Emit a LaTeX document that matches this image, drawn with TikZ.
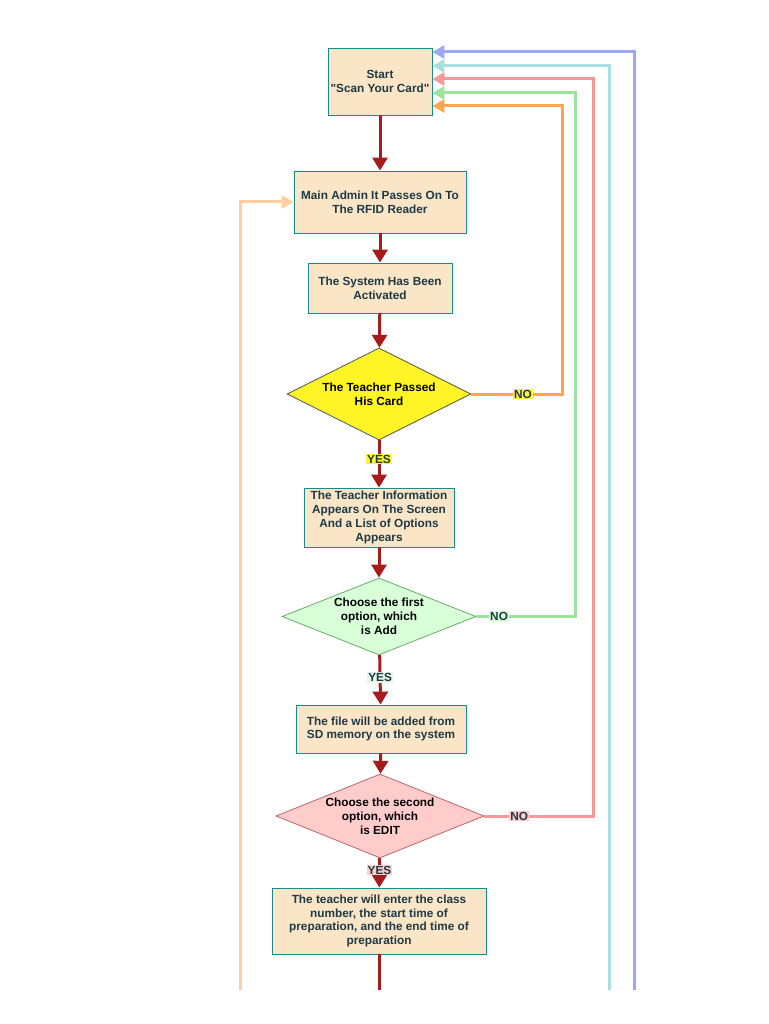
\documentclass[tikz,border=0pt]{standalone}
\usepackage{fontspec}
\setmainfont{Liberation Sans}
\usetikzlibrary{shapes.geometric,arrows.meta}
\definecolor{boxf}{HTML}{FAE5C6}
\definecolor{boxd}{HTML}{168C8C}
\definecolor{txt}{HTML}{1E3A46}
\definecolor{flow}{HTML}{A61C1C}
\definecolor{cor}{HTML}{FFA552}
\definecolor{cgr}{HTML}{9CE39C}
\definecolor{cre}{HTML}{F59A97}
\definecolor{ccy}{HTML}{A8E0E0}
\definecolor{cbl}{HTML}{9AA8F5}
\definecolor{cpe}{HTML}{FFCFA0}
\begin{document}
\begin{tikzpicture}[x=1pt,y=-1pt,
  font=\fontsize{11.8}{13.8}\selectfont\bfseries,
  box/.style={draw=boxd,fill=boxf,text=txt,align=center,inner sep=0pt,line width=0.8pt},
  dia/.style={diamond,aspect=2,draw,align=center,inner sep=0pt,line width=0.8pt,text=black},
  fl/.style={draw=flow,line width=3pt,-{Triangle[width=15pt,length=13pt]}},
  back/.style={line width=3pt,-{Triangle[width=13pt,length=12pt]}},
  lab/.style={inner sep=1pt,text=txt}]
\useasboundingbox (0,0) rectangle (768,1024);
\node[box,minimum width=104pt,minimum height=67pt] (s) at (380,81.5) {Start\\\textquotedbl Scan Your Card\textquotedbl};
\node[box,minimum width=172pt,minimum height=62pt] (a) at (380,202) {Main Admin It Passes On To\\The RFID Reader};
\node[box,minimum width=144pt,minimum height=50pt] (b) at (380,288) {The System Has Been\\Activated};
\node[dia,fill=yellow!85!white,draw=black!70,minimum width=184pt,minimum height=92pt] (d1) at (379,394) {The Teacher Passed\\His Card};
\node[box,minimum width=150pt,minimum height=59pt] (c) at (379,517.5) {The Teacher Information\\Appears On The Screen\\And a List of Options\\Appears};
\node[dia,aspect=2.5,fill=green!15!white,draw=green!45!black!60,minimum width=194pt,minimum height=77pt] (d2) at (379,616.5) {Choose the first\\option, which\\is Add};
\node[box,minimum width=170pt,minimum height=48pt] (f) at (381,729) {The file will be added from\\SD memory on the system};
\node[dia,aspect=2.4,fill=red!20!white,draw=red!55!black!60,minimum width=208pt,minimum height=84pt] (d3) at (380,816) {Choose the second\\option, which\\is EDIT};
\node[box,minimum width=214pt,minimum height=66pt] (g) at (379,921) {The teacher will enter the class\\number, the start time of\\preparation, and the end time of\\preparation};
\coordinate (e0) at (379,990);
\coordinate (ec) at (609,990);
\coordinate (eb) at (634,990);
\coordinate (ep) at (240,990);

\draw[fl] (s) -- (a);
\draw[fl] (a) -- (b);
\draw[fl] (b) -- (d1);
\draw[fl] (d1) -- node[lab,fill=yellow!80!white,pos=0.4]{YES} (c);
\draw[fl] (c) -- (d2);
\draw[fl] (d2) -- node[lab,fill=cyan!10!green!10!white,pos=0.45]{YES} (f);
\draw[fl] (f) -- (d3);
\draw[fl] (d3) -- node[lab,fill=red!20!white,pos=0.4]{YES} (g);
\draw[draw=flow,line width=3pt] (g) -- (e0);

\draw[back,cor] (d1.east) -- node[lab,fill=yellow!80!white,pos=0.57]{NO} (562,394) -- (562,106) -- (s.east |- 0,106);
\draw[back,cgr] (d2.east) -- node[lab,fill=green!15!white,pos=0.23]{NO} (575,616.5) -- (575,93) -- (s.east |- 0,93);
\draw[back,cre] (d3.east) -- node[lab,fill=red!20!white,pos=0.32]{NO} (593,816) -- (593,79) -- (s.east |- 0,79);
\draw[back,ccy] (ec) -- (609,66) -- (s.east |- 0,66);
\draw[back,cbl] (eb) -- (634,52) -- (s.east |- 0,52);
\draw[back,cpe] (ep) -- (240,202) -- (a.west);
\end{tikzpicture}
\end{document}
